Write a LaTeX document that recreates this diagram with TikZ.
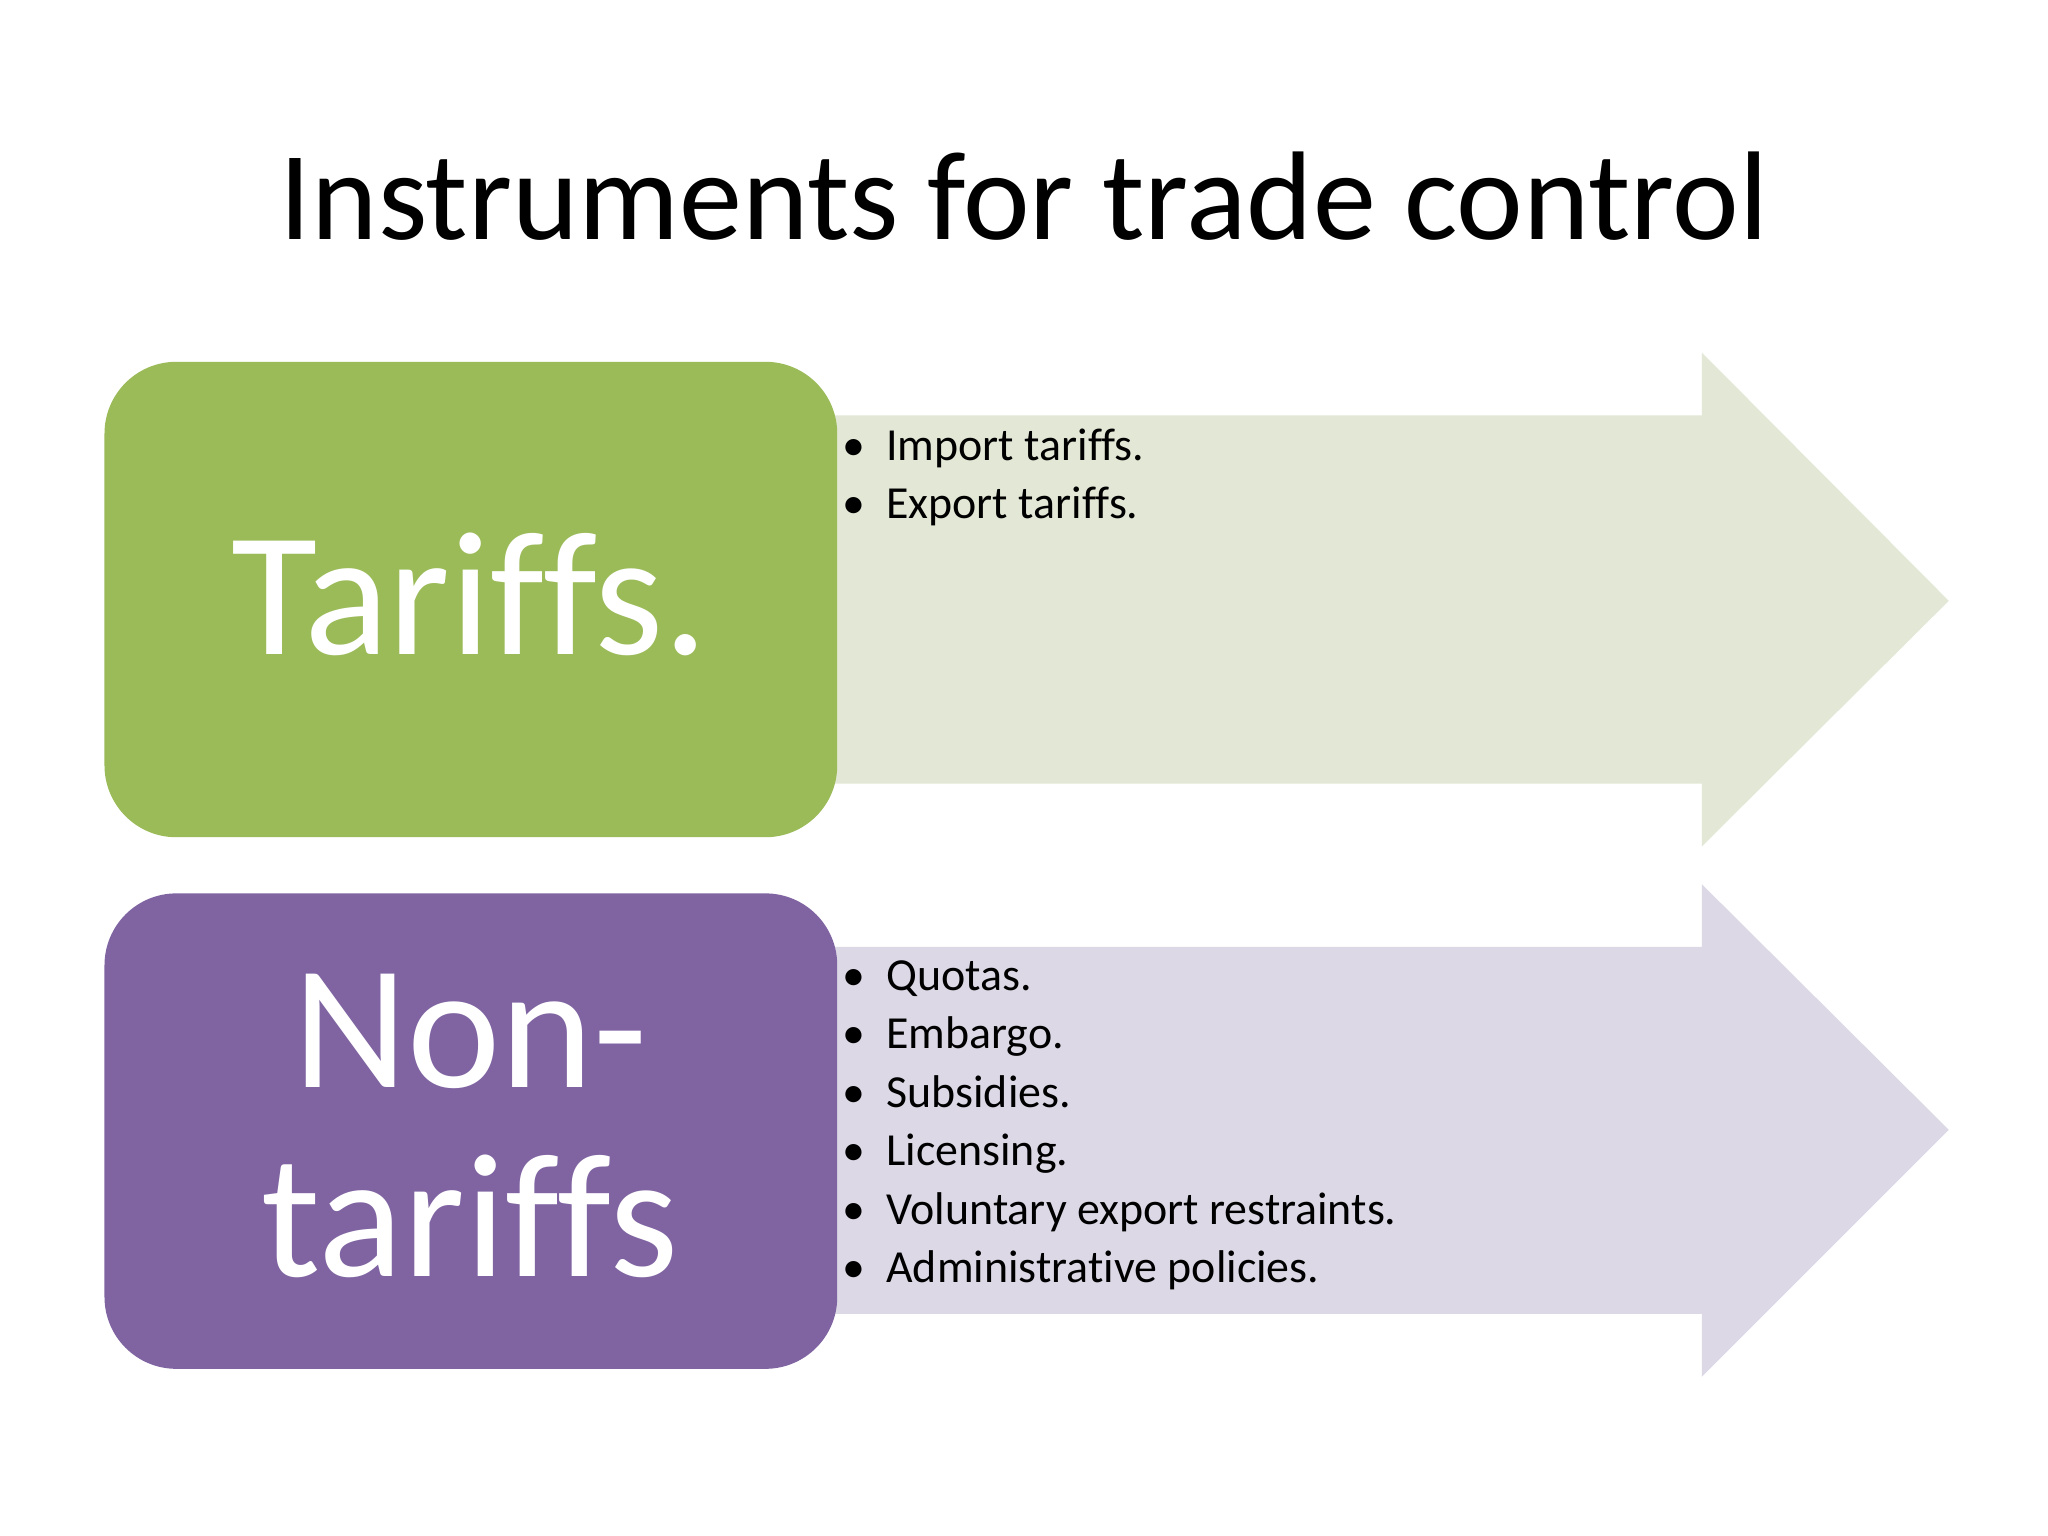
\documentclass[tikz,border=0pt]{standalone}
\usepackage{fontspec}
\setmainfont[Ligatures={NoCommon}]{Carlito}
\definecolor{tgreen}{HTML}{9BBB59}
\definecolor{tgreenl}{HTML}{E2E8D5}
\definecolor{tpurp}{HTML}{8064A2}
\definecolor{tpurpl}{HTML}{DCD8E6}
\begin{document}
\begin{tikzpicture}[x=0.02cm,y=-0.02cm,
  bigbox/.style={rounded corners=1.1cm},
  bul/.style={anchor=north west,align=left,font=\fontsize{20}{25.5}\selectfont,inner sep=0pt}]
\useasboundingbox (0,0) rectangle (1568,1176);
\fill[white] (0,0) rectangle (1568,1176);
\node (title) at (784,150) {\fontsize{55}{65}\selectfont Instruments for trade control};
% arrows
\fill[tgreenl] (620,318) -- (1303,318) -- (1303,270) -- (1492,460) -- (1303,648) -- (1303,600) -- (620,600) -- cycle;
\fill[tpurpl] (620,725) -- (1303,725) -- (1303,677) -- (1492,865) -- (1303,1054) -- (1303,1006) -- (620,1006) -- cycle;
% boxes
\fill[tgreen,bigbox] (80,277) rectangle (641,641);
\fill[tpurp,bigbox] (80,684) rectangle (641,1048);
\node[text=white,font=\fontsize{77}{80}\selectfont] (t) at (360,455) {Tariffs.};
\node[text=white,align=center,font=\fontsize{77}{82}\selectfont] (n) at (360,862) {Non-\\tariffs};
\node[bul] (l1) at (645,328) {\textbullet\hspace{0.45em}Import tariffs.\\\textbullet\hspace{0.45em}Export tariffs.};
\node[bul] (l2) at (645,735) {\textbullet\hspace{0.45em}Quotas.\\\textbullet\hspace{0.45em}Embargo.\\\textbullet\hspace{0.45em}Subsidies.\\\textbullet\hspace{0.45em}Licensing.\\\textbullet\hspace{0.45em}Voluntary export restraints.\\\textbullet\hspace{0.45em}Administrative policies.};
\end{tikzpicture}
\end{document}
